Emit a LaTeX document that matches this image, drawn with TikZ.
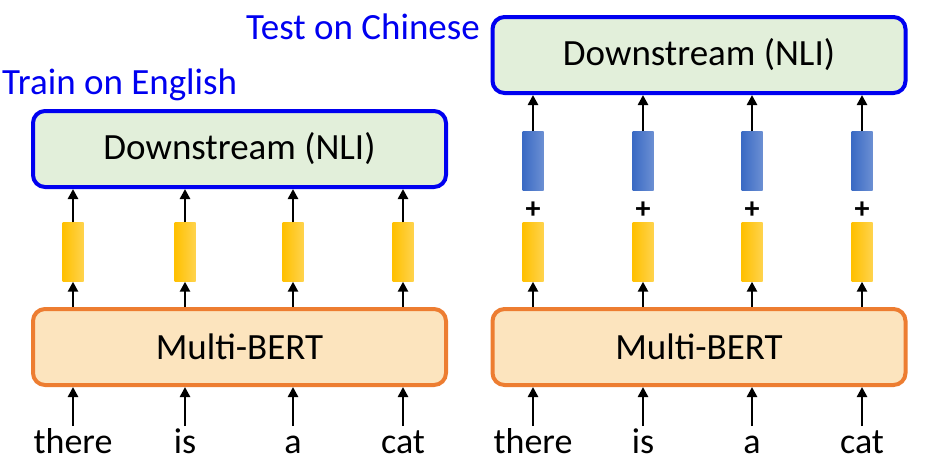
\documentclass[tikz,border=0pt]{standalone}
\usepackage{fontspec}
\setmainfont{Carlito}
\usetikzlibrary{arrows.meta,positioning}
\definecolor{dsblue}{RGB}{0,0,240}
\definecolor{dsfill}{RGB}{226,239,218}
\definecolor{bertline}{RGB}{237,125,49}
\definecolor{bertfill}{RGB}{252,228,190}
\definecolor{vecyel}{RGB}{255,192,0}
\definecolor{vecblue}{RGB}{58,106,196}
\tikzset{
  down/.style={draw=dsblue,line width=4pt,fill=dsfill,rounded corners=12pt,minimum width=413pt,minimum height=76pt,font=\fontsize{37}{42}\selectfont},
  bert/.style={draw=bertline,line width=4pt,fill=bertfill,rounded corners=12pt,minimum width=413pt,minimum height=76pt,font=\fontsize{37}{42}\selectfont},
  yvec/.style={left color=vecyel,right color=vecyel!70!white,minimum width=21pt,minimum height=59pt,inner sep=0pt},
  bvec/.style={left color=vecblue,right color=vecblue!75!white,minimum width=21pt,minimum height=59pt,inner sep=0pt},
  word/.style={font=\fontsize{36}{40}\selectfont,inner sep=0pt},
  lbl/.style={font=\fontsize{37}{42}\selectfont,text=dsblue,inner sep=0pt},
  arr/.style={line width=2.5pt,-{Triangle[length=10pt,width=10pt]}}
}
\begin{document}
\begin{tikzpicture}[x=1pt,y=-1pt]
\useasboundingbox (0,0) rectangle (925,469);
% left: train
\node[lbl,anchor=west] (train) at (2,85) {Train on English};
\node[down] (dsL) at (239.5,149) {Downstream (NLI)};
\node[bert] (bertL) at (239.5,347) {Multi-BERT};
\foreach \x/\w [count=\i] in {73/there,185/is,293/a,403/cat}{
  \node[word] (wL\i) at (\x,445) {\strut\w};
  \node[yvec] (yL\i) at (\x,252) {};
  \draw[arr] (\x,426) -- (\x,0 |- bertL.south);
  \draw[arr] (\x,0 |- bertL.north) -- (yL\i.south);
  \draw[arr] (yL\i.north) -- (\x,0 |- dsL.south);
}
% right: test
\node[lbl,anchor=east] (test) at (480,27) {Test on Chinese};
\node[down] (dsR) at (699,55) {Downstream (NLI)};
\node[bert] (bertR) at (699,347) {Multi-BERT};
\foreach \x/\w [count=\i] in {533/there,643/is,752/a,862/cat}{
  \node[word] (wR\i) at (\x,445) {\strut\w};
  \node[yvec] (yR\i) at (\x,252) {};
  \node[bvec] (bR\i) at (\x,161) {};
  \node[font=\bfseries\fontsize{30}{32}\selectfont,inner sep=0pt] (pR\i) at (\x,210) {+};
  \draw[arr] (\x,426) -- (\x,0 |- bertR.south);
  \draw[arr] (\x,0 |- bertR.north) -- (yR\i.south);
  \draw[arr] (bR\i.north) -- (\x,0 |- dsR.south);
}
\end{tikzpicture}
\end{document}
